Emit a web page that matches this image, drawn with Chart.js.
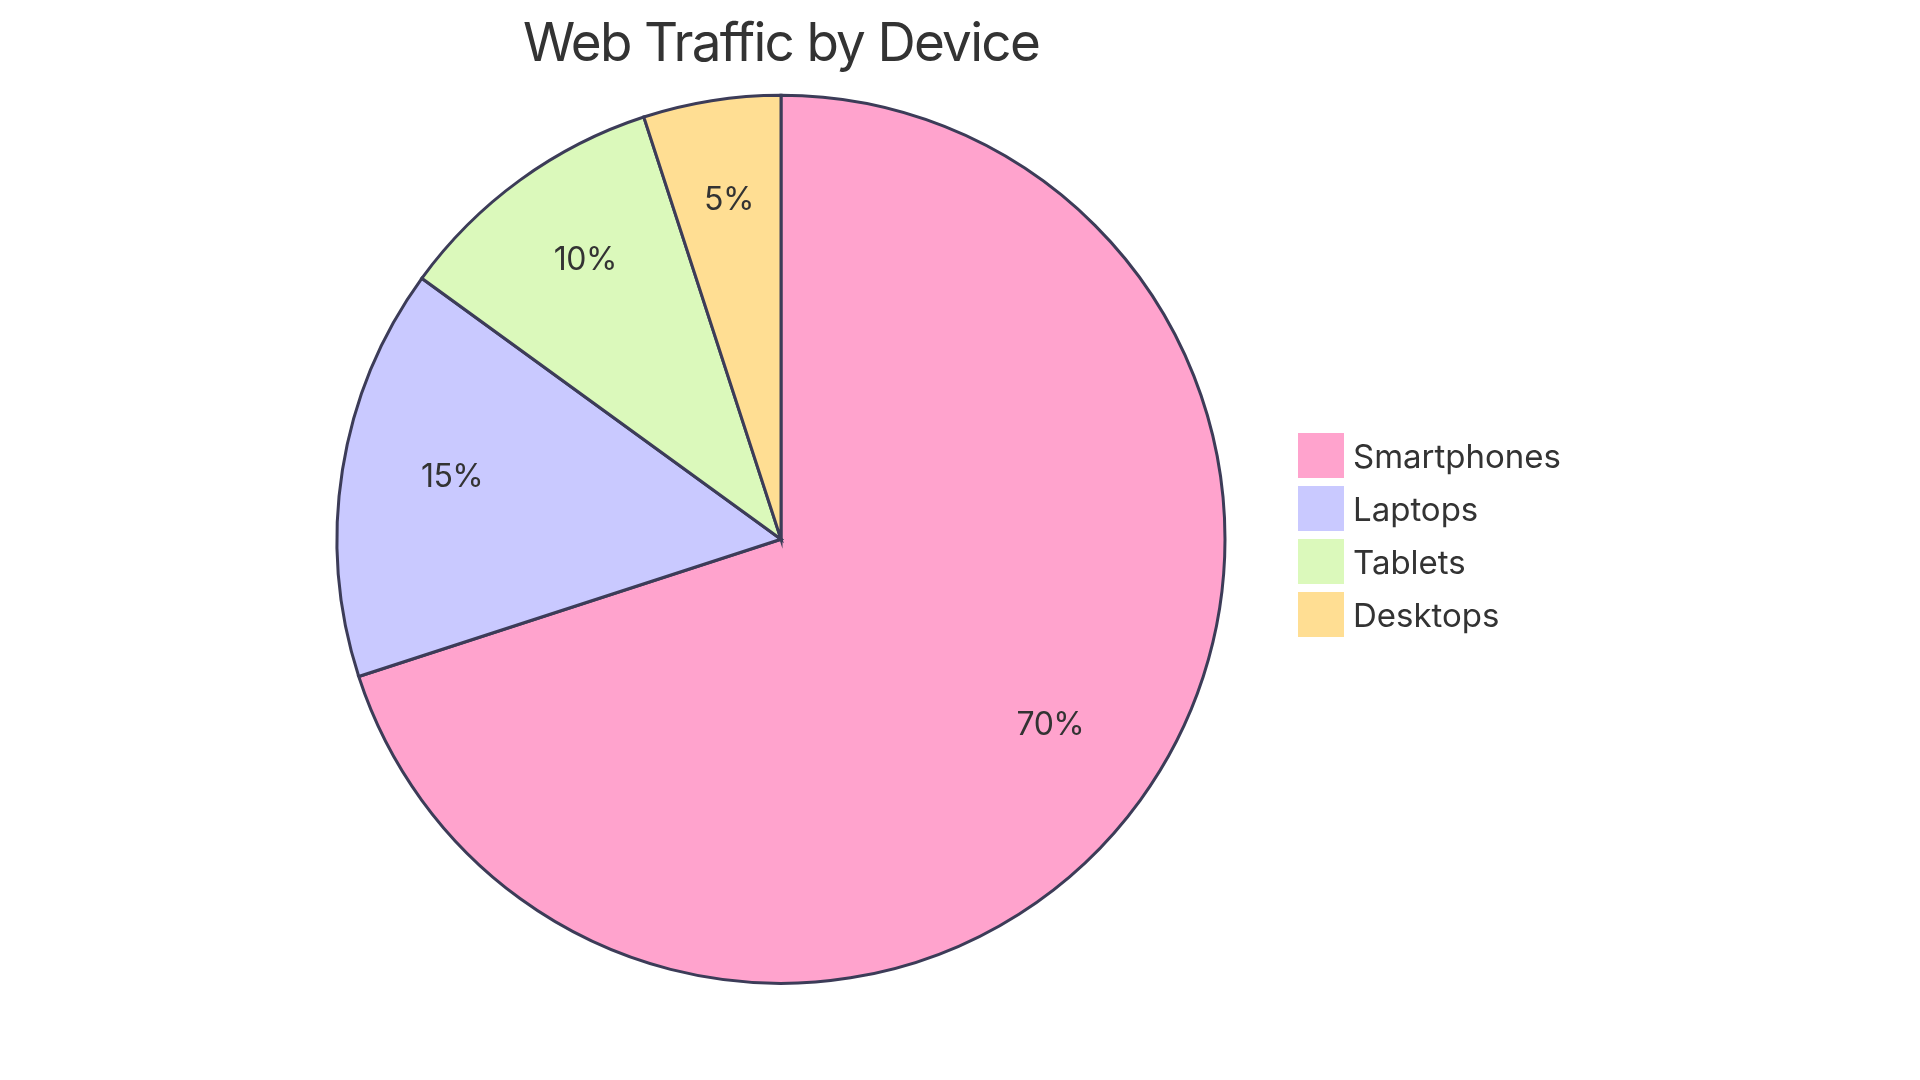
<!DOCTYPE html>
<html>
<head>
<meta charset="utf-8">
<script src="https://cdn.jsdelivr.net/npm/chart.js@4.4.1/dist/chart.umd.min.js"></script>
<style>
  html, body { margin: 0; padding: 0; background: #ffffff; }
  #wrap { position: relative; width: 1920px; height: 1080px; }
  #chart { position: absolute; left: 0; top: 0; }
  #legend { position: absolute; left: 1298px; top: 433px; font-family: Inter, "Noto Sans", sans-serif; font-size: 33px; color: #333333; }
  .item { display: flex; align-items: center; height: 45px; margin-bottom: 8px; }
  .box { width: 46px; height: 45px; margin-right: 9px; box-sizing: border-box; }
</style>
</head>
<body>
<div id="wrap">
  <canvas id="chart" width="1920" height="1080"></canvas>
  <div id="legend"></div>
</div>
<script>
const titleText = "Web Traffic by Device";
const categories = ["Smartphones", "Laptops", "Tablets", "Desktops"];
const values = [70, 15, 10, 5];
const colors = ["#FFA3CD", "#C9C9FF", "#DBF9BB", "#FFDE93"];
const strokeColor = "#3c3c58";

const total = values.reduce((a, b) => a + b, 0);

const titleSpacing = {
  id: "titleSpacing",
  beforeDraw(chart) { chart.ctx.letterSpacing = "-1.7px"; },
  beforeDatasetsDraw(chart) { chart.ctx.letterSpacing = "0px"; }
};

const sliceLabels = {
  id: "sliceLabels",
  afterDatasetsDraw(chart) {
    const ctx = chart.ctx;
    const meta = chart.getDatasetMeta(0);
    ctx.save();
    ctx.letterSpacing = "-0.5px";
    ctx.font = "32px Inter, 'Noto Sans', sans-serif";
    ctx.fillStyle = "#333333";
    ctx.textAlign = "center";
    ctx.textBaseline = "alphabetic";
    meta.data.forEach((arc, i) => {
      const p = arc.getProps(["x", "y", "startAngle", "endAngle", "outerRadius"], true);
      const mid = (p.startAngle + p.endAngle) / 2;
      const r = p.outerRadius * 0.75;
      const pct = Math.round(values[i] / total * 100);
      ctx.fillText(pct + "%", p.x + Math.cos(mid) * r, p.y + Math.sin(mid) * r);
    });
    ctx.restore();
  }
};

new Chart(document.getElementById("chart"), {
  type: "pie",
  data: {
    labels: categories,
    datasets: [{
      data: values,
      backgroundColor: colors,
      borderColor: strokeColor,
      borderWidth: 3,
      borderJoinStyle: "miter",
      hoverOffset: 0
    }]
  },
  options: {
    responsive: false,
    devicePixelRatio: 1,
    animation: false,
    radius: 444,
    layout: { padding: { left: 0, right: 358, top: 0, bottom: 88 } },
    plugins: {
      legend: { display: false },
      tooltip: { enabled: false },
      title: {
        display: true,
        text: titleText,
        color: "#333333",
        font: { family: "Inter, 'Noto Sans', sans-serif", size: 53, weight: "normal", lineHeight: 1.2 },
        padding: { top: 13, bottom: 10 }
      }
    }
  },
  plugins: [titleSpacing, sliceLabels]
});

const legend = document.getElementById("legend");
categories.forEach((c, i) => {
  const item = document.createElement("div");
  item.className = "item";
  const box = document.createElement("div");
  box.className = "box";
  box.style.background = colors[i];
  const txt = document.createElement("span");
  txt.textContent = c;
  item.appendChild(box);
  item.appendChild(txt);
  legend.appendChild(item);
});
</script>
</body>
</html>
